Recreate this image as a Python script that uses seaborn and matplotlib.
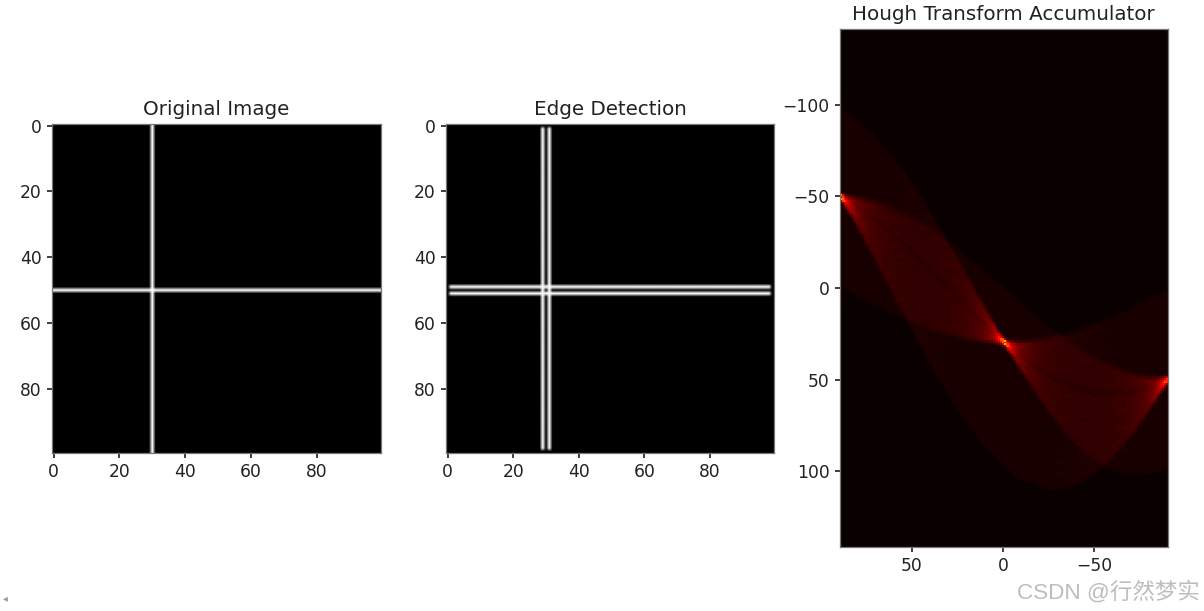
import numpy as np
import pandas as pd
import seaborn as sns
import matplotlib.pyplot as plt

# Image content
image_size = 100
line_row = 50
line_col = 30
edge_rows = [49, 51]
edge_cols = [29, 31]
edge_start = 1
edge_stop = 99

image_ticks = [0, 20, 40, 60, 80]
theta_ticks = [50, 0, -50]
rho_ticks = [-100, -50, 0, 50, 100]

titles = ["Original Image", "Edge Detection", "Hough Transform Accumulator"]
watermark = "CSDN @行然梦实"

W, H = 1204, 611
TICK_SIZE = 12.3
TITLE_SIZE = 14.3
RHO_EXTENT = 141.5  # rho axis runs -141.5..141.5 over the image height


def axes_at(fig, left, top, right, bottom):
    # pixel box -> figure fractions
    return fig.add_axes([left / W, 1 - bottom / H, (right - left) / W, (bottom - top) / H])


def hough_accumulator(edges):
    # The accumulator is the Hough vote count of the edge image, it can't be read cell by cell
    thetas = np.deg2rad(np.arange(-90, 90))
    diag = int(np.ceil(np.hypot(*edges.shape)))
    acc = np.zeros((2 * diag + 1, len(thetas)))
    ys, xs = np.nonzero(edges)
    for j, theta in enumerate(thetas):
        rhos = np.round(xs * np.cos(theta) + ys * np.sin(theta)).astype(int) + diag
        np.add.at(acc[:, j], rhos, 1)
    return acc, diag


def soften(acc):
    # The reference is a resampled screenshot, so cells bleed a little into their neighbours
    kernel = np.array([0.14, 0.72, 0.14])
    acc = np.apply_along_axis(np.convolve, 0, acc, kernel, mode="same")
    return np.apply_along_axis(np.convolve, 1, acc, kernel, mode="same")


def style_spines(ax):
    for side in ax.spines.values():
        side.set_visible(True)
        side.set_color("#777777")
        side.set_linewidth(0.9)


sns.set_theme(style="ticks", rc={
    "font.family": ["DejaVu Sans"],
    "axes.titlesize": TITLE_SIZE,
    "xtick.labelsize": TICK_SIZE,
    "ytick.labelsize": TICK_SIZE,
    "xtick.major.size": 3.9,
    "ytick.major.size": 3.9,
    "text.color": "#222222",
    "axes.titlecolor": "#222222",
    "xtick.labelcolor": "#222222",
    "ytick.labelcolor": "#222222",
})

# Build the images
original = np.zeros((image_size, image_size))
original[line_row, :] = 1
original[:, line_col] = 1

edges = np.zeros((image_size, image_size))
edges[edge_rows, edge_start:edge_stop] = 1
edges[edge_start:edge_stop, edge_cols] = 1

accumulator, diag = hough_accumulator(edges)
peak = accumulator.max()

fig = plt.figure(figsize=(W / 100, H / 100), dpi=100)

ax1 = axes_at(fig, 52, 124, 381, 453)
ax2 = axes_at(fig, 446, 124, 774, 453)
ax3 = axes_at(fig, 840, 29, 1167.5, 547)

for ax, img, title in zip([ax1, ax2], [original, edges], titles):
    ax.imshow(img, cmap="gray", interpolation="bilinear", aspect="auto")
    ax.set_xticks(image_ticks)
    ax.set_yticks(image_ticks)
    ax.set_title(title, pad=6.5)
    style_spines(ax)

# Hough panel
hot = sns.color_palette("hot", as_cmap=True)
sns.heatmap(pd.DataFrame(soften(accumulator)), ax=ax3, cmap=hot, cbar=False,
            xticklabels=False, yticklabels=False, vmin=0, vmax=peak)
ax3.set_xticks([89.5 - t for t in theta_ticks])
ax3.set_xticklabels([str(t).replace("-", "\u2212") for t in theta_ticks], rotation=0)
rows_per_unit = accumulator.shape[0] / (2 * RHO_EXTENT)
ax3.set_yticks([diag + 0.5 + r * rows_per_unit for r in rho_ticks])
ax3.set_yticklabels([str(r).replace("-", "\u2212") for r in rho_ticks], rotation=0)
ax3.tick_params(length=3.9)
ax3.set_title(titles[2], pad=6.5)
style_spines(ax3)

fig.text(1017 / W, 1 - 592 / H, watermark, fontsize=16.2, color="#bdbdbd", va="center",
         family=["Liberation Sans", "Noto Sans CJK SC"])
fig.text(5 / W, 1 - 598 / H, "\u25c2", fontsize=7, color="#999999", ha="center", va="center")

fig.savefig("out.png", dpi=100)
